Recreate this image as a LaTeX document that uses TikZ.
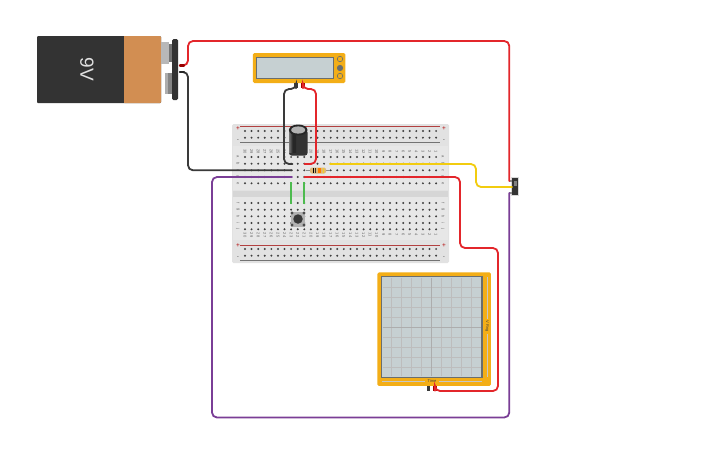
\documentclass[tikz,border=0pt]{standalone}
\usepackage{fontspec}
\setmainfont{Liberation Sans}
\definecolor{bbfill}{HTML}{E2E2E2}
\definecolor{bbband}{HTML}{E7E7E7}
\definecolor{bbgap}{HTML}{D6D6D6}
\definecolor{hole}{HTML}{3F3F3F}
\definecolor{wred}{HTML}{E3262B}
\definecolor{wblack}{HTML}{3A3A3A}
\definecolor{wpurple}{HTML}{7A3E96}
\definecolor{wyellow}{HTML}{F2CC0F}
\definecolor{wgreen}{HTML}{4DBB4F}
\definecolor{amber}{HTML}{F3AE17}
\definecolor{screen}{HTML}{C6D0D2}
\definecolor{bezel}{HTML}{6A6E6E}
\definecolor{copper}{HTML}{D28E52}
\definecolor{casing}{HTML}{333333}
\definecolor{resbody}{HTML}{E0B878}
\tikzset{
  wire/.style={line width=1.8pt,rounded corners=5pt,line cap=round},
  jumper/.style={line width=2pt,draw=wgreen},
  railred/.style={line width=1pt,draw=red!60!black!75},
  raildark/.style={line width=0.9pt,draw=black!55},
  tiny/.style={font=\fontsize{4}{4}\selectfont,text=black!60,inner sep=0pt},
  sign/.style={font=\fontsize{6.5}{7}\selectfont,inner sep=0pt},
  scopegrid/.style={line width=0.5pt,draw=black!26},
  scopeaxis/.style={line width=1pt,draw=black!32},
  knob/.style={circle,minimum size=5.5pt,inner sep=0pt,draw=bezel,line width=0.6pt},
  pin/.style={minimum width=3.5pt,minimum height=5pt,inner sep=0pt}
}
\begin{document}
\begin{tikzpicture}[x=1pt,y=-1pt]
\useasboundingbox (0,0) rectangle (725,453);
\fill[white] (0,0) rectangle (725,453);

% breadboard
\node[draw=none,fill=bbfill,rounded corners=1.5pt,minimum width=217pt,minimum height=139pt,inner sep=0pt] (board) at (340.5,193.5) {};
\fill[bbband] (233,146) rectangle (448,190);
\fill[bbband] (233,197) rectangle (448,240);
\fill[bbgap] (233,190.5) rectangle (448,196.5);
\draw[railred] (240,126.5) -- (440,126.5);
\draw[raildark] (240,142.3) -- (440,142.3);
\draw[railred] (240,245) -- (440,245);
\draw[raildark] (240,260) -- (440,260);
\foreach \y in {131,137.7,157,163.7,170.3,177,183.3,203,209.7,216.3,223,229.3,249,255.7}
  \foreach \c in {0,...,29}
    \fill[hole] ({245+6.59*\c},\y) circle (1.1pt);
\foreach \c [evaluate=\c as \n using {int(30-\c)}] in {0,...,29} {
  \node[tiny,rotate=-90] at ({245+6.59*\c},151.5) {\n};
  \node[tiny,rotate=-90] at ({245+6.59*\c},235) {\n};
}
\foreach \t/\y in {a/157,b/163.7,c/170.3,d/177,e/183.3,f/203,g/209.7,h/216.3,i/223,j/229.3} {
  \node[tiny,rotate=-90] at (238,\y) {\t};
  \node[tiny,rotate=-90] at (443,\y) {\t};
}
\node[sign,text=red!70!black] at (238,128.5) {+};
\node[sign,text=black!60] at (238,140.5) {-};
\node[sign,text=red!70!black] at (238,246) {+};
\node[sign,text=black!60] at (238,258) {-};
\node[sign,text=red!70!black] at (444,128.5) {+};
\node[sign,text=black!60] at (444,140.5) {-};
\node[sign,text=red!70!black] at (444,246) {+};
\node[sign,text=black!60] at (444,258) {-};

% battery
\node[fill=casing,rounded corners=1pt,minimum width=124pt,minimum height=67pt,inner sep=0pt] (battery) at (99,69.5) {};
\fill[copper,rounded corners=1pt] (124,36) rectangle (161,103);
\fill[copper] (124,36) rectangle (130,103);
\node[rotate=-90,text=black!12,font=\fontsize{19}{20}\selectfont,inner sep=0pt] (nine) at (87,69.5) {9V};
\fill[black!28] (161,42) rectangle (169,64);
\fill[black!55] (169,44) rectangle (172,62);
\fill[black!48] (165,73) rectangle (172,94);
\fill[black!32] (165,73) rectangle (168,94);
\node[fill=casing,rounded corners=1.5pt,minimum width=6pt,minimum height=61pt,inner sep=0pt] (clip) at (175,69.5) {};
\coordinate (batplus) at (180,65.5);
\coordinate (batminus) at (180,72);

% LCD
\node[fill=amber,rounded corners=1.5pt,minimum width=92.5pt,minimum height=30pt,inner sep=0pt] (lcd) at (299.2,68) {};
\node[fill=screen,draw=bezel,line width=1.1pt,minimum width=76.5pt,minimum height=21.5pt,inner sep=0pt] (lcdscreen) at (295,68) {};
\node[knob,fill=amber] (k1) at (340,59) {};
\node[knob,fill=bezel] (k2) at (340,68) {};
\node[knob,fill=amber] (k3) at (340,76) {};
\node[pin,fill=wblack] (lcdneg) at (296,85.5) {};
\node[pin,fill=red!65!black] (lcdpos) at (303,85.5) {};

% oscilloscope
\node[fill=amber,rounded corners=1.5pt,minimum width=113.5pt,minimum height=113.5pt,inner sep=0pt] (scope) at (434.2,329.2) {};
\node[fill=screen,minimum width=100pt,minimum height=100pt,inner sep=0pt] (scopescreen) at (431.7,327) {};
\foreach \i in {1,...,9} {
  \draw[scopegrid] ({381.7+10*\i},278) -- ({381.7+10*\i},376);
  \draw[scopegrid] (382.7,{277+10*\i}) -- (480.7,{277+10*\i});
}
\draw[scopeaxis] (431.7,278) -- (431.7,376);
\draw[scopeaxis] (382.7,327) -- (480.7,327);
\draw[draw=bezel,line width=1.3pt] (scopescreen.north west) rectangle (scopescreen.south east);
\node[font=\fontsize{4}{4}\selectfont,text=black!75,inner sep=0pt] (timelabel) at (432,381.5) {Time};
\node[font=\fontsize{4}{4}\selectfont,text=black!75,inner sep=0pt,rotate=-90] (vlabel) at (487,326.5) {V Rng};
\draw[line width=0.4pt,draw=black!22] (382,381.5) -- (425,381.5) (439,381.5) -- (482,381.5);
\draw[line width=0.4pt,draw=black!22] (487,277) -- (487,319) (487,334) -- (487,377);
\node[pin,fill=wblack] (scopeneg) at (428.5,388) {};
\node[pin,fill=red!65!black] (scopepos) at (435,388) {};

% switch
\node[fill=black!15,minimum width=8pt,minimum height=19pt,inner sep=0pt] (halo) at (515,186.5) {};
\node[fill=casing,minimum width=6pt,minimum height=17pt,inner sep=0pt] (switch) at (515,186.5) {};
\fill[black!50] (513.5,181) rectangle (516.5,186);
\coordinate (swtop) at (509.3,181);
\coordinate (swbot) at (509.3,193);
\draw[line width=1.2pt,black!45] (swtop) -- (512,181);
\draw[line width=1.2pt,black!45] (swbot) -- (512,193);

% named connector ends
\coordinate (blackhole) at (292,170.3);
\coordinate (purplehole) at (292,177);
\coordinate (redhole) at (304.5,177);
\coordinate (lcdblack) at (292.5,164);
\coordinate (lcdred) at (304.5,164);
\coordinate (yellowhole) at (330,164);
\coordinate (swmid) at (512,187);

% wires
\draw[wire,wred] (batplus) -- (188,65.5) -- (188,41) -- (509.3,41) -- (swtop);
\draw[wire,wblack] (batminus) -- (188,72) -- (188,170.3) -- (blackhole);
\draw[line width=2.4pt,red!60!black,line cap=round] (batplus) -- (184,65.5);
\draw[line width=2.4pt,black!85,line cap=round] (batminus) -- (184,72);
\draw[wire,wpurple] (purplehole) -- (212,177) -- (212,417.5) -- (509.3,417.5) -- (swbot);
\draw[wire,wred] (redhole) -- (460,177) -- (460,248) -- (498,248) -- (498,391) -- (435,391) -- (scopepos);
\draw[wire,wyellow] (yellowhole) -- (476,164) -- (476,187) -- (swmid);
\draw[wire,wblack] (lcdneg) -- (296,89) -- (284,89) -- (284,164) -- (lcdblack);
\draw[wire,wred] (lcdpos) -- (303,89) -- (316,89) -- (316,164) -- (lcdred);
\coordinate (g1t) at (291.3,182);
\coordinate (g1b) at (291.3,204);
\coordinate (g2t) at (304.4,182);
\coordinate (g2b) at (304.4,204);
\draw[jumper] (g1t) -- (g1b);
\draw[jumper] (g2t) -- (g2b);

% capacitor
\fill[black!80,rounded corners=2.5pt] (289,130) rectangle (307.5,155.5);
\shade[left color=black!55,right color=black!85,middle color=black!85] (289,130) rectangle (296,152);
\fill[black!85] (298.2,130) ellipse (9.3pt and 5.5pt);
\fill[black!30] (298.2,130) ellipse (7pt and 3.6pt);

% resistor
\coordinate (rl) at (305.5,170.5);
\coordinate (rr) at (330,170.5);
\draw[line width=0.8pt,black!45] (rl) -- (rr);
\node[fill=resbody,rounded corners=2pt,minimum width=16pt,minimum height=6pt,inner sep=0pt] (resistor) at (318,170.5) {};
\fill[black] (312.5,168) rectangle (313.7,173);
\fill[black!80] (315,168) rectangle (316.2,173);
\fill[orange] (317.5,168) rectangle (320.5,173);
\fill[yellow!70!brown] (323,168) rectangle (324.2,173);

% push button
\node[fill=black!30,minimum width=14pt,minimum height=15pt,inner sep=0pt] (button) at (298,219) {};
\foreach \x/\y in {292/213,304/213,292/225,304/225}
  \fill[black!70] (\x,\y) circle (1.6pt);
\node[circle,fill=black!78,minimum size=9.5pt,inner sep=0pt] (cap) at (298,219) {};
\end{tikzpicture}
\end{document}
